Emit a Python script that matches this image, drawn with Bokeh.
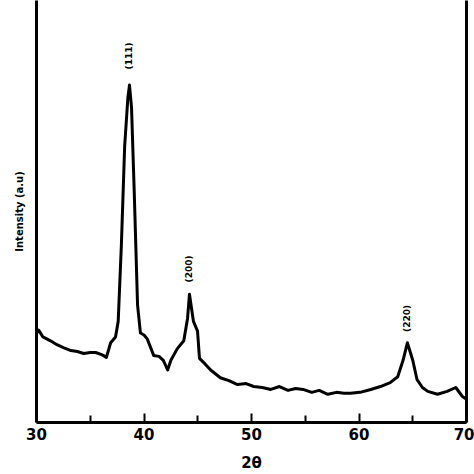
import math
from bokeh.plotting import figure
from bokeh.models import FixedTicker, LinearAxis, Range1d, Label
from bokeh.embed import file_html
from bokeh.resources import INLINE

# 2-theta (degrees) and intensity (arb. units)
two_theta = [30.0, 30.2, 30.6, 31.3, 31.9, 32.5, 33.2, 33.8, 34.4, 35.0, 35.5, 36.0, 36.2, 36.5,
             36.9, 37.35, 37.6, 37.9, 38.2, 38.5, 38.65, 38.84, 39.1, 39.4, 39.67, 40.0, 40.3,
             40.9, 41.4, 41.8, 42.2, 42.5, 43.1, 43.7, 44.05, 44.23, 44.4, 44.6, 44.98, 45.16,
             45.7, 46.2, 47.1, 47.9, 48.7, 49.5, 50.2, 51.0, 51.8, 52.6, 53.4, 54.1, 54.8, 55.6,
             56.3, 57.1, 57.9, 58.6, 59.2, 60.1, 61.1, 62.0, 62.9, 63.6, 64.1, 64.5, 65.0, 65.4,
             65.9, 66.4, 67.3, 68.2, 69.0, 69.6, 70.0]
intensity = [92, 95, 88, 84, 80, 77, 74, 73, 71, 72, 72, 70, 69, 67,
             82, 88, 104, 184, 284, 334, 347, 324, 234, 121, 92, 90, 86,
             69, 68, 64, 54, 64, 76, 84, 107, 132, 119, 104, 94, 66,
             60, 54, 46, 43, 39, 40, 37, 36, 34, 37, 33, 35, 34, 31,
             33, 29, 31, 30, 30, 31, 34, 37, 41, 47, 64, 82, 64, 44,
             36, 32, 29, 32, 36, 27, 24]

x_ticks = [30, 40, 50, 60, 70]
x_minor = [35, 45, 55, 65]
peak_names = ["(111)", "(200)", "(220)"]
peak_x = [38.65, 44.14, 64.5]
peak_y = [377, 158, 107]

p = figure(width=474, height=474, output_backend="svg", toolbar_location=None,
           x_range=Range1d(30, 70), y_range=Range1d(0, 434),
           min_border_left=36, min_border_right=8, min_border_top=0, min_border_bottom=40)
p.outline_line_color = None
p.grid.visible = False
p.background_fill_color = "white"
p.border_fill_color = "white"

p.line(two_theta, intensity, line_color="black", line_width=3, line_join="round")

for name, px, py in zip(peak_names, peak_x, peak_y):
    p.add_layout(Label(x=px, y=py, text=name, angle=math.pi / 2, text_align="center",
                       text_baseline="middle", text_font="DejaVu Sans", text_font_size="9px",
                       text_font_style="bold", text_color="black"))

xa = p.xaxis[0]
xa.ticker = FixedTicker(ticks=x_ticks, minor_ticks=x_minor)
xa.axis_line_width = 3
xa.axis_line_color = "black"
xa.major_tick_in = 9
xa.major_tick_out = 0
xa.minor_tick_in = 7
xa.minor_tick_out = 0
xa.major_tick_line_width = 2
xa.minor_tick_line_width = 2
xa.major_label_text_font = "DejaVu Sans"
xa.major_label_text_font_size = "15px"
xa.major_label_text_font_style = "bold"
xa.major_label_text_color = "black"
xa.major_label_standoff = 5
xa.axis_label = "2θ"
xa.axis_label_text_font = "DejaVu Sans"
xa.axis_label_text_font_size = "15px"
xa.axis_label_text_font_style = "bold"
xa.axis_label_text_color = "black"
xa.axis_label_standoff = 11

ya = p.yaxis[0]
ya.ticker = FixedTicker(ticks=[])
ya.major_label_text_font_size = "0px"
ya.axis_line_width = 3
ya.axis_line_color = "black"
ya.major_tick_line_color = None
ya.minor_tick_line_color = None
ya.axis_label = "Intensity (a.u)"
ya.axis_label_text_font = "DejaVu Sans"
ya.axis_label_text_font_size = "10px"
ya.axis_label_text_font_style = "bold"
ya.axis_label_text_color = "black"
ya.axis_label_standoff = 12

ra = LinearAxis(ticker=FixedTicker(ticks=[]), axis_line_width=3, axis_line_color="black",
                major_tick_line_color=None, minor_tick_line_color=None,
                major_label_text_font_size="0px")
p.add_layout(ra, "right")

open("out.html", "w").write(file_html(p, INLINE))
